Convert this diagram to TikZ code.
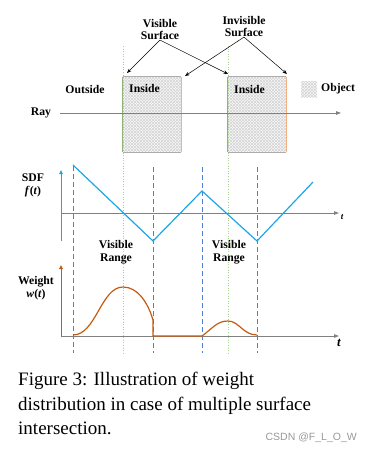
\documentclass[tikz,border=0pt]{standalone}
\usepackage{fontspec}
\setmainfont{Liberation Serif}
\setsansfont{Liberation Sans}
\usetikzlibrary{patterns,arrows.meta}
\definecolor{sdfblue}{HTML}{1AA7E8}
\definecolor{dashblue}{HTML}{4F7FD0}
\definecolor{worange}{HTML}{C55A11}
\definecolor{lgreen}{HTML}{A9D18E}
\definecolor{axgray}{HTML}{808080}
\definecolor{salmon}{HTML}{F4B183}
\begin{document}
\begin{tikzpicture}[x=1pt,y=-1pt,
  lbl/.style={font=\bfseries\fontsize{11.7}{12.5}\selectfont, align=center, inner sep=0pt},
  objfill/.style={fill=gray!6,
     postaction={pattern=north east lines, pattern color=gray!32},
     postaction={pattern=north west lines, pattern color=gray!32}},
  objbox/.style={objfill, draw=none, minimum width=58pt, minimum height=75pt, inner sep=0pt},
  pointer/.style={-{Stealth[length=4.5pt,width=3.5pt]}, line width=0.5pt, black},
  axis/.style={-{Triangle[length=5pt,width=3.5pt]}, line width=0.9pt, axgray},
  vdash/.style={dashblue, line width=0.8pt, dash pattern=on 4.5pt off 3.5pt},
  vgreen/.style={lgreen, line width=0.6pt, dotted}
]
\useasboundingbox (0,0) rectangle (373,453);

% ---------- top: ray and objects ----------
\node[objbox] (box1) at (152,114.5) {};
\node[objbox] (box2) at (257,114.5) {};
\foreach \b in {box1,box2}{
  \draw[gray!65, line width=0.8pt] (\b.north west) -- (\b.north east);
  \draw[gray!65, line width=0.8pt] (\b.south west) -- (\b.south east);
  \draw[salmon, line width=0.6pt] (\b.north east) -- (\b.south east);
}

% green dotted surface lines
\coordinate (g1t) at (123,46);  \coordinate (g1b) at (123,353);
\coordinate (g2t) at (228,46);  \coordinate (g2b) at (228,353);
\draw[vgreen] (g1t) -- (g1b);
\draw[vgreen] (g2t) -- (g2b);
\draw[lgreen!85!black, line width=0.9pt] (box1.north west) -- (box1.south west);
\draw[lgreen!85!black, line width=0.9pt] (box2.north west) -- (box2.south west);

\node[lbl, anchor=west] (in1) at (129,88) {Inside};
\node[lbl, anchor=west] (in2) at (234,89) {Inside};
\node[lbl] (outside) at (85,90) {Outside};

\node[objfill, minimum size=16pt, inner sep=0pt] (leg) at (309,89) {};
\node[lbl, anchor=west] (objlbl) at (321,89) {Object};

\node[lbl] (ray) at (41,113) {Ray};
\coordinate (rayL) at (60,113);
\coordinate (rayR) at (341,113);
\draw[axis, line width=0.8pt] (rayL) -- (rayR);

\node[lbl] (vs) at (160,29.5) {Visible\\Surface};
\node[lbl] (is) at (244,26.5) {Invisible\\Surface};
\coordinate (a1) at (127,73);
\coordinate (a2) at (228,74);
\coordinate (a3) at (185,76);
\coordinate (a4) at (287,74);
\draw[pointer] (vs.south) -- (a1);
\draw[pointer] (vs.south) -- (a2);
\draw[pointer] (is.south) -- (a3);
\draw[pointer] (is.south) -- (a4);

% ---------- SDF plot ----------
\node[lbl] (sdf) at (33,185.5) {SDF\\\textit{f}(\textit{t})};
\coordinate (sdfB) at (61,241);
\coordinate (sdfT) at (61,170);
\draw[-{Triangle[length=4pt,width=3.5pt]}, sdfblue, line width=1pt] (sdfB) -- (sdfT);
\coordinate (tA) at (61,213);
\coordinate (tB) at (339,213);
\draw[axis] (tA) -- (tB);
\node[font=\bfseries\itshape\fontsize{9}{10}\selectfont, inner sep=0pt] (t1) at (342,217) {t};

\coordinate (s0) at (73,165);
\coordinate (s1) at (153,241);
\coordinate (s2) at (202,191);
\coordinate (s3) at (257,241);
\coordinate (s4) at (313,182);

% dashed verticals
\coordinate (d0t) at (73,166);  \coordinate (d0b) at (73,353);
\coordinate (d1t) at (153,167); \coordinate (d1b) at (153,353);
\coordinate (d2t) at (202,167); \coordinate (d2b) at (202,353);
\coordinate (d3t) at (257,167); \coordinate (d3b) at (257,353);
\draw[vdash] (d0t) -- (d0b);
\draw[vdash] (d1t) -- (d1b);
\draw[vdash] (d2t) -- (d2b);
\draw[vdash] (d3t) -- (d3b);

\draw[sdfblue, line width=1.2pt, line join=miter] (s0) -- (s1) -- (s2) -- (s3) -- (s4);

\node[lbl] (vr1) at (116,252) {Visible\\Range};
\node[lbl] (vr2) at (229,252) {Visible\\Range};

% ---------- weight plot ----------
\node[lbl] (wlbl) at (36,288) {Weight\\\textit{w}(\textit{t})};
\coordinate (wB) at (61,336);
\coordinate (wT) at (61,265);
\draw[-{Triangle[length=4pt,width=3.5pt]}, worange, line width=1pt] (wB) -- (wT);
\coordinate (wA) at (61,336);
\coordinate (wE) at (339,336);
\draw[axis] (wA) -- (wE);
\node[font=\bfseries\itshape\fontsize{13}{14}\selectfont, inner sep=0pt] (t2) at (339,343) {t};

\coordinate (w0) at (73,335);
\coordinate (w1) at (123,287);
\coordinate (w2) at (153,320);
\coordinate (w3) at (153,336);
\coordinate (w4) at (202,336);
\coordinate (w5) at (228,321);
\coordinate (w6) at (257,335);
\draw[worange, line width=1.2pt, line join=round]
  (w0) .. controls (96,335) and (101,287) .. (w1)
       .. controls (138,287) and (148,303) .. (w2)
  -- (w3) -- (w4)
       .. controls (213,328) and (217,321) .. (w5)
       .. controls (239,321) and (243,335) .. (w6);

% ---------- caption ----------
\node[anchor=north west, align=left, inner sep=0pt,
      font=\fontsize{19}{24.5}\selectfont] (cap) at (18,372)
  {Figure 3: Illustration of weight\\distribution in case of multiple surface\\intersection.};
\node[anchor=east, inner sep=0pt, text=gray!80,
      font=\sffamily\fontsize{10.5}{12}\selectfont] (wm) at (357,438) {CSDN @F\_L\_O\_W};
\end{tikzpicture}
\end{document}
